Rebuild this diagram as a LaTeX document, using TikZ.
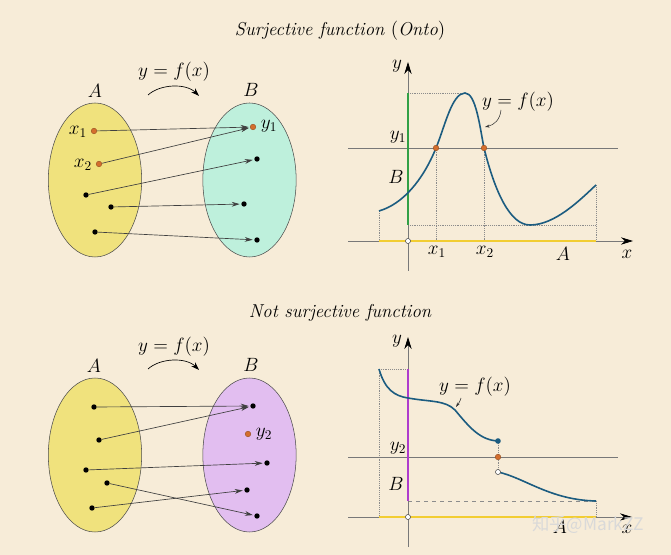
\documentclass[tikz,border=0pt]{standalone}
\usepackage{fontspec}
\newfontfamily\cjk{Noto Sans CJK SC}
\usetikzlibrary{arrows.meta,shapes.geometric}
\definecolor{bg}{RGB}{247,236,216}
\definecolor{setyel}{RGB}{240,226,125}
\definecolor{setteal}{RGB}{190,240,220}
\definecolor{setpur}{RGB}{226,190,240}
\definecolor{curvec}{RGB}{28,92,128}
\definecolor{axgray}{RGB}{120,120,120}
\definecolor{orng}{RGB}{212,110,45}
\definecolor{grn}{RGB}{50,160,70}
\definecolor{purp}{RGB}{175,60,205}
\definecolor{yel}{RGB}{242,205,50}
\begin{document}
\begin{tikzpicture}[x=0.75pt,y=-0.75pt,font=\fontsize{14.5}{17}\selectfont,
  setnode/.style={ellipse,draw=black!70,line width=0.4pt,minimum width=70pt,minimum height=115.5pt,inner sep=0},
  bdot/.style={circle,fill=black,inner sep=0,minimum size=4pt},
  odot/.style={circle,fill=orng,draw=orng!70!black,line width=0.3pt,inner sep=0,minimum size=4.2pt},
  wdot/.style={circle,fill=white,draw=black!70,line width=0.4pt,inner sep=0,minimum size=3.8pt},
  cdot/.style={circle,fill=curvec,inner sep=0,minimum size=4.2pt},
  maparrow/.style={draw=black!75,line width=0.5pt,-{Stealth[length=6pt,width=3.6pt]},shorten >=1pt},
  axis/.style={draw=axgray,line width=0.6pt},
  axarrow/.style={axis,-{Stealth[length=9pt,width=5.5pt,black]}},
  guide/.style={draw=black!45,densely dotted,line width=0.4pt},
  fcurve/.style={draw=curvec,line width=1.2pt},
  pointer/.style={draw=black!80,line width=0.4pt,-{Stealth[length=3.5pt,width=2.2pt]}},
  fnarrow/.style={draw=black,line width=0.5pt,-{Stealth[length=6pt,width=4pt]}}]
\fill[bg] (0,0) rectangle (671,555);
\useasboundingbox (0,0) rectangle (671,555);

% ---------- titles ----------
\node (t1) at (340,31) {\fontsize{14}{16}\selectfont\itshape Surjective function $\bigl($Onto$\bigr)$};
\node (t2) at (340,313) {\fontsize{14}{16}\selectfont\itshape Not surjective function};

% ---------- top left: sets ----------
\node[setnode,fill=setyel] (SA1) at (95,180) {};
\node[setnode,fill=setteal] (SB1) at (249.5,180) {};
\node (lA1) at (95,91) {$A$};
\node (lB1) at (251,90) {$B$};
\node (fm1) at (174,72) {$y=f\bigl(x\bigr)$};
\coordinate (c1s) at (148,95);
\coordinate (c1e) at (199,96);
\draw[fnarrow] (c1s) .. controls (160,84) and (186,83) .. (c1e);

\node[odot] (a11) at (94,131) {};
\node[odot] (a12) at (99,164) {};
\node[bdot] (a13) at (86,195) {};
\node[bdot] (a14) at (111,207) {};
\node[bdot] (a15) at (95,232) {};
\node[odot] (b11) at (253,127) {};
\node[bdot] (b12) at (257,159) {};
\node[bdot] (b13) at (244,204) {};
\node[bdot] (b14) at (257,240) {};
\node (lx1) at (78,132) {$x_1$};
\node (lx2) at (83,165) {$x_2$};
\node (ly1) at (269,126) {$y_1$};
\draw[maparrow] (a11) -- (b11);
\draw[maparrow] (a12) -- (b11);
\draw[maparrow] (a13) -- (b12);
\draw[maparrow] (a14) -- (b13);
\draw[maparrow] (a15) -- (b14);

% ---------- top right: graph ----------
\draw[guide] (408,93) -- (465,93);
\draw[guide] (408,225) -- (596,225);
\draw[guide] (379,211) -- (379,241);
\draw[guide] (596,185) -- (596,241);
\draw[guide] (436,148) -- (436,241);
\draw[guide] (484,148) -- (484,241);
\draw[axis] (348,148) -- (618,148);
\draw[axarrow] (348,241) -- (633,241);
\draw[axarrow] (408,271) -- (408,62);
\draw[grn,line width=1.6pt] (408,93) -- (408,225);
\draw[yel,line width=1.6pt] (379,241) -- (596,241);
\draw[fcurve] (379,211) .. controls (403,204) and (423,180) .. (436,148)
  .. controls (445,126) and (452,93) .. (465,93)
  .. controls (476,93) and (480,128) .. (484,148)
  .. controls (495,192) and (510,225) .. (530,225)
  .. controls (555,225) and (580,200) .. (596,185);
\node[odot] (p11) at (436,148) {};
\node[odot] (p12) at (484,148) {};
\node[wdot] (O1) at (408,241) {};
\node (gy1) at (397,66) {$y$};
\node (gx1) at (627,254) {$x$};
\node (gy11) at (398,137) {$y_1$};
\node (gB1) at (396,177) {$B$};
\node (gx11) at (437,252) {$x_1$};
\node (gx12) at (485,252) {$x_2$};
\node (gA1) at (563,254) {$A$};
\node (gf1) at (518,102) {$y=f\bigl(x\bigr)$};
\coordinate (pt1) at (485,127);
\draw[pointer] (501,110) .. controls (500,120) and (494,125) .. (pt1);

% ---------- bottom left: sets ----------
\node[setnode,fill=setyel] (SA2) at (95,455) {};
\node[setnode,fill=setpur] (SB2) at (249.5,455) {};
\node (lA2) at (94,366) {$A$};
\node (lB2) at (251,365) {$B$};
\node (fm2) at (174,347) {$y=f\bigl(x\bigr)$};
\coordinate (c2s) at (148,369);
\coordinate (c2e) at (199,370);
\draw[fnarrow] (c2s) .. controls (160,358) and (186,357) .. (c2e);

\node[bdot] (a21) at (94,407) {};
\node[bdot] (a22) at (99,440) {};
\node[bdot] (a23) at (86,470) {};
\node[bdot] (a24) at (107,483) {};
\node[bdot] (a25) at (92,508) {};
\node[bdot] (b21) at (253,406) {};
\node[odot] (b22) at (248,434) {};
\node[bdot] (b23) at (267,463) {};
\node[bdot] (b24) at (247,490) {};
\node[bdot] (b25) at (257,516) {};
\node (ly2) at (264,434) {$y_2$};
\draw[maparrow] (a21) -- (b21);
\draw[maparrow] (a22) -- (b21);
\draw[maparrow] (a23) -- (b23);
\draw[maparrow] (a24) -- (b25);
\draw[maparrow] (a25) -- (b24);

% ---------- bottom right: graph ----------
\draw[guide] (379,369) -- (408,369);
\draw[guide] (379,369) -- (379,517);
\draw[guide] (498,441) -- (498,472);
\draw[guide,dashed] (408,501) -- (596,501);
\draw[guide] (596,501) -- (596,517);
\draw[axis] (348,457) -- (618,457);
\draw[axarrow] (348,517) -- (632,517);
\draw[axarrow] (408,547) -- (408,337);
\draw[purp,line width=1.6pt] (408,369) -- (408,501);
\draw[yel,line width=1.6pt] (379,517) -- (596,517);
\draw[fcurve] (379,369) .. controls (385,390) and (395,396) .. (408,398)
  .. controls (430,402) and (445,400) .. (455,410)
  .. controls (470,428) and (480,440) .. (498,441);
\draw[fcurve] (498,472) .. controls (525,478) and (550,500) .. (596,501);
\node[cdot] (e1) at (498,441) {};
\node[odot] (p21) at (498,457) {};
\node[wdot] (e2) at (498,472) {};
\node[wdot] (O2) at (408,517) {};
\node (gy2) at (397,341) {$y$};
\node (gx2) at (627,529) {$x$};
\node (gy22) at (398,448) {$y_2$};
\node (gB2) at (396,484) {$B$};
\node (gA2) at (560,527) {$A$};
\node (gf2) at (475,387) {$y=f\bigl(x\bigr)$};
\coordinate (pt2) at (456,407);
\draw[pointer] (461,398) .. controls (460,402) and (458,404) .. (pt2);

% watermark
\node[text=white!85!black,font=\cjk\fontsize{13}{15}\selectfont] (wm) at (588,525) {知乎@MarkZZ};
\end{tikzpicture}
\end{document}
